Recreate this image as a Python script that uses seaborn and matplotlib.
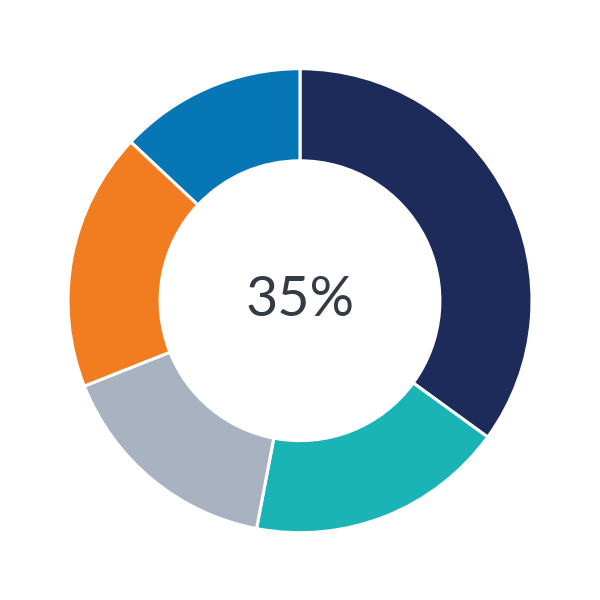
import matplotlib
matplotlib.use("Agg")
import matplotlib.pyplot as plt
import seaborn as sns

categories = ["Navy", "Teal", "Gray", "Orange", "Blue"]
shares = [35, 18, 16, 18, 13]
colors = ["#1c2b5a", "#1bb4b6", "#a8b2c0", "#f27d21", "#0776b4"]
center_label = "35%"

sns.set_theme(style="white")
plt.rcParams['font.family'] = ['Lato', 'DejaVu Sans']
palette = sns.color_palette(colors)

fig = plt.figure(figsize=(6, 6), dpi=100)
ax = fig.add_axes([0, 0, 1, 1])
ax.pie(shares, colors=palette, startangle=90, counterclock=False, radius=1,
       wedgeprops=dict(width=0.397, edgecolor="white", linewidth=2.2))
ax.text(0, 0.0, center_label, ha="center", va="center", fontsize=40,
        color="#333b45", fontweight="normal")
lim = 300 / 232
ax.set_xlim(-lim, lim)
ax.set_ylim(-lim + 0.003, lim + 0.003)
ax.set_aspect("equal")
ax.axis("off")
fig.savefig("out.png", dpi=100, facecolor="white")
